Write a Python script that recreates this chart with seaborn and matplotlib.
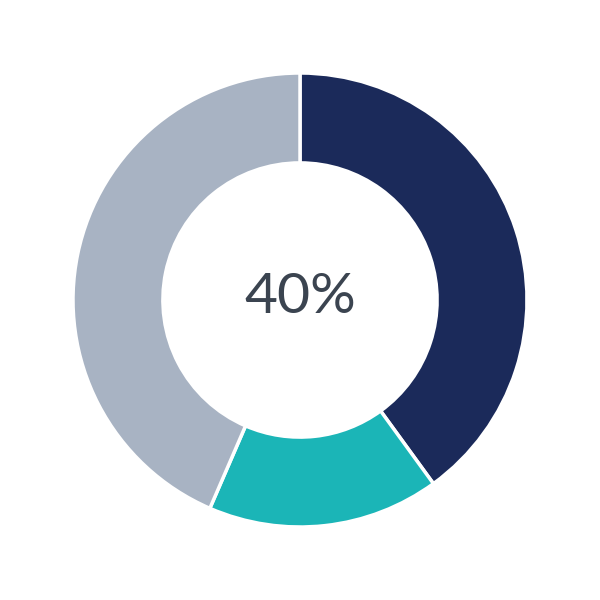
import matplotlib
matplotlib.use("Agg")
import matplotlib.pyplot as plt
import seaborn as sns

# Slice shares (clockwise from 12 o'clock)
labels = ["Navy", "Teal", "Gray"]
shares = [40, 16.5, 43.5]
colors = ["#1b2a5a", "#1bb5b7", "#a8b3c3"]
center_text = "40%"

sns.set_theme(style="white")
plt.rcParams['font.family'] = ['Lato', 'DejaVu Sans']

fig = plt.figure(figsize=(6, 6), dpi=100)
ax = fig.add_axes([0, 0, 1, 1])

ax.pie(shares, colors=colors, startangle=90, counterclock=False, radius=1.0,
       wedgeprops=dict(width=0.396, edgecolor="white", linewidth=2.5))

ax.text(0, 0.01, center_text, ha="center", va="center", fontsize=41,
        color="#3b4450", fontweight="normal")

lim = 300 / 227
ax.set_xlim(-lim, lim)
ax.set_ylim(-lim, lim)
ax.set_aspect("equal")
ax.axis("off")

fig.savefig("out.png", dpi=100, facecolor="white")
